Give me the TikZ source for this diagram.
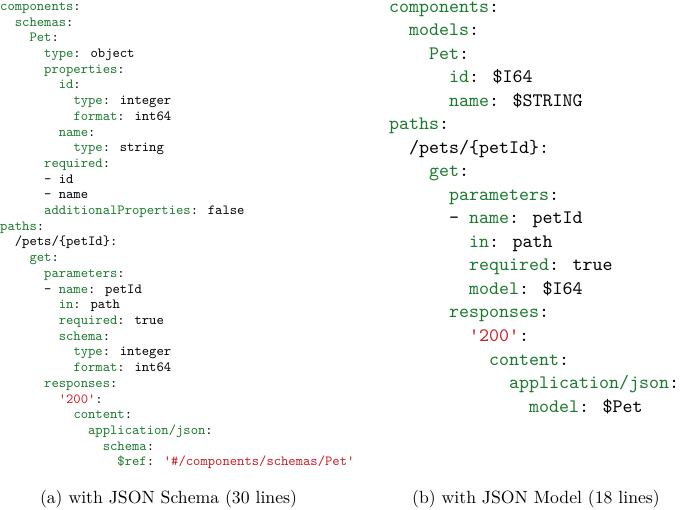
\documentclass[tikz,border=0pt]{standalone}
\usepackage{fontspec}
\usepackage{xcolor}
\newfontfamily\codefont{lmmono10-regular}[Extension=.otf]
\newfontfamily\capfont{lmroman10-regular}[Extension=.otf]
\definecolor{keygreen}{RGB}{26,122,44}
\definecolor{strred}{RGB}{205,30,40}
\newcommand{\ykey}[1]{\textcolor{keygreen}{#1}}
\newcommand{\ystr}[1]{\textcolor{strred}{#1}}
\newcommand{\sq}{\textquotesingle}
\tikzset{
  lcode/.style={anchor=base west, inner sep=0pt, font=\codefont\fontsize{13.96}{15}\selectfont},
  rcode/.style={anchor=base west, inner sep=0pt, font=\codefont\fontsize{19.05}{22}\selectfont},
  capt/.style={anchor=base, inner sep=0pt, font=\capfont\fontsize{17.7}{20}\selectfont}
}
\begin{document}
\begin{tikzpicture}[x=1pt,y=-1pt]
    \useasboundingbox (0,0) rectangle (685,510);
    %Left: JSON Schema, 30 lines
    \node[lcode] (l1)  at (0,10.5)      {\ykey{components}:};
    \node[lcode] (l2)  at (14.66,26.2)  {\ykey{schemas}:};
    \node[lcode] (l3)  at (29.32,41.9)  {\ykey{Pet}:};
    \node[lcode] (l4)  at (43.98,57.6)  {\ykey{type}: object};
    \node[lcode] (l5)  at (43.98,73.3)  {\ykey{properties}:};
    \node[lcode] (l6)  at (58.64,89)    {\ykey{id}:};
    \node[lcode] (l7)  at (73.3,104.7)  {\ykey{type}: integer};
    \node[lcode] (l8)  at (73.3,120.4)  {\ykey{format}: int64};
    \node[lcode] (l9)  at (58.64,136.1) {\ykey{name}:};
    \node[lcode] (l10) at (73.3,151.8)  {\ykey{type}: string};
    \node[lcode] (l11) at (43.98,167.5) {\ykey{required}:};
    \node[lcode] (l12) at (43.98,183.2) {- id};
    \node[lcode] (l13) at (43.98,198.9) {- name};
    \node[lcode] (l14) at (43.98,214.6) {\ykey{additionalProperties}: false};
    \node[lcode] (l15) at (0,230.3)     {\ykey{paths}:};
    \node[lcode] (l16) at (14.66,246)   {/pets/\{petId\}:};
    \node[lcode] (l17) at (29.32,261.7) {\ykey{get}:};
    \node[lcode] (l18) at (43.98,277.4) {\ykey{parameters}:};
    \node[lcode] (l19) at (43.98,293.1) {- \ykey{name}: petId};
    \node[lcode] (l20) at (58.64,308.8) {\ykey{in}: path};
    \node[lcode] (l21) at (58.64,324.5) {\ykey{required}: true};
    \node[lcode] (l22) at (58.64,340.2) {\ykey{schema}:};
    \node[lcode] (l23) at (73.3,355.9)  {\ykey{type}: integer};
    \node[lcode] (l24) at (73.3,371.6)  {\ykey{format}: int64};
    \node[lcode] (l25) at (43.98,387.3) {\ykey{responses}:};
    \node[lcode] (l26) at (58.64,403)   {\ystr{\sq200\sq}:};
    \node[lcode] (l27) at (73.3,418.7)  {\ykey{content}:};
    \node[lcode] (l28) at (87.96,434.4) {\ykey{application/json}:};
    \node[lcode] (l29) at (102.62,450.1) {\ykey{schema}:};
    \node[lcode] (l30) at (117.28,465.8) {\ykey{\$ref}: \ystr{\sq\#/components/schemas/Pet\sq}};
    %Right: JSON Model, 18 lines
    \node[rcode] (r1)  at (389,12.5)  {\ykey{components}:};
    \node[rcode] (r2)  at (409,36)    {\ykey{models}:};
    \node[rcode] (r3)  at (429,59.5)  {\ykey{Pet}:};
    \node[rcode] (r4)  at (449,83)    {\ykey{id}: \$I64};
    \node[rcode] (r5)  at (449,106.5) {\ykey{name}: \$STRING};
    \node[rcode] (r6)  at (389,130)   {\ykey{paths}:};
    \node[rcode] (r7)  at (409,153.5) {/pets/\{petId\}:};
    \node[rcode] (r8)  at (429,177)   {\ykey{get}:};
    \node[rcode] (r9)  at (449,200.5) {\ykey{parameters}:};
    \node[rcode] (r10) at (449,224)   {- \ykey{name}: petId};
    \node[rcode] (r11) at (469,247.5) {\ykey{in}: path};
    \node[rcode] (r12) at (469,271)   {\ykey{required}: true};
    \node[rcode] (r13) at (469,294.5) {\ykey{model}: \$I64};
    \node[rcode] (r14) at (449,318)   {\ykey{responses}:};
    \node[rcode] (r15) at (469,341.5) {\ystr{\sq200\sq}:};
    \node[rcode] (r16) at (489,365)   {\ykey{content}:};
    \node[rcode] (r17) at (509,388.5) {\ykey{application/json}:};
    \node[rcode] (r18) at (529,412)   {\ykey{model}: \$Pet};
    %Captions
    \node[capt] (capa) at (168.5,503) {(a) with JSON Schema (30 lines)};
    \node[capt] (capb) at (536,503)   {(b) with JSON Model (18 lines)};
\end{tikzpicture}
\end{document}
